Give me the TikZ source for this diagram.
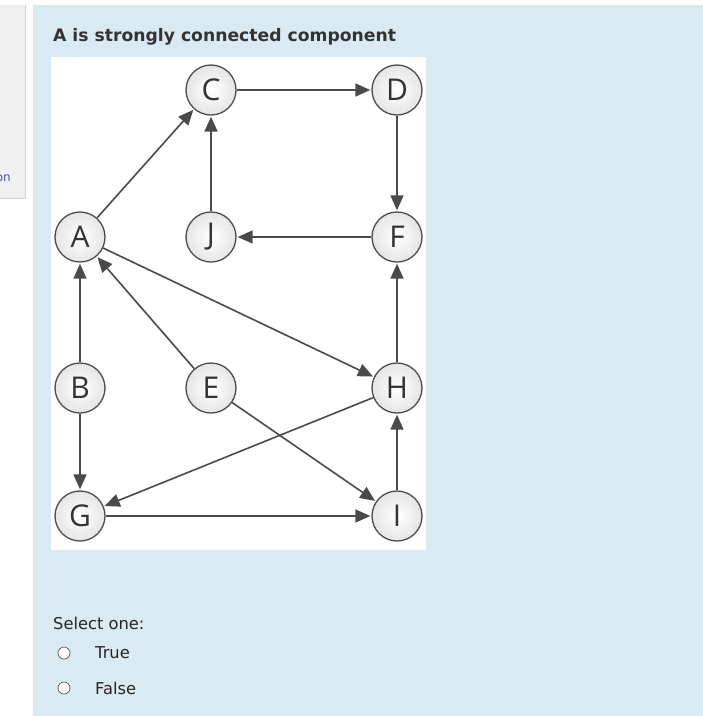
\documentclass[tikz,border=0pt]{standalone}
\usepackage{fontspec}
\setmainfont{DejaVu Sans}
\newfontfamily\nodefont{Open Sans}
\usetikzlibrary{arrows.meta}
\definecolor{panel}{HTML}{D9EAF3}
\definecolor{edge}{HTML}{4A4A4A}
\tikzset{
  vert/.style={circle,draw=black!70,line width=1.3pt,inner color=white,outer color=gray!20,minimum size=50pt,inner sep=0pt,font=\nodefont\fontsize{30}{30}\selectfont,text=black!80},
  conn/.style={draw=edge,line width=1.6pt,-{Triangle[length=15pt,width=13pt]},shorten >=1pt},
  radio/.style={circle,draw=gray!70!black,fill=white,minimum size=12pt,inner sep=0pt,line width=0.7pt},
  ui/.style={anchor=west,font=\fontsize{16.3}{16.3}\selectfont,text=black!85}
}
\begin{document}
\begin{tikzpicture}[x=1pt,y=-1pt]
\useasboundingbox (0,0) rectangle (703,716);
\fill[white] (0,0) rectangle (703,716);
\fill[gray!12] (0,5) rectangle (25,198);
\draw[gray!35] (25,5) -- (25,198) -- (0,198);
\node[font=\fontsize{12}{12}\selectfont,text=blue!40!gray,anchor=east,inner sep=1pt] (on) at (12,178) {on};
\fill[panel] (33,5) rectangle (703,716);
\node[anchor=west,font=\bfseries\fontsize{17.2}{17.2}\selectfont,text=black!80,inner sep=1pt] (title) at (52,37) {A is strongly connected component};
\fill[white] (51,57) rectangle (426,550);
\node[vert] (C) at (211,90) {C};
\node[vert] (D) at (397,90) {D};
\node[vert] (A) at (80,237) {A};
\node[vert] (J) at (211,237) {J};
\node[vert] (F) at (397,237) {F};
\node[vert] (B) at (80,388) {B};
\node[vert] (E) at (211,388) {E};
\node[vert] (H) at (397,388) {H};
\node[vert] (G) at (80,516) {G};
\node[vert] (I) at (397,516) {I};
\draw[conn] (A) -- (C);
\draw[conn] (C) -- (D);
\draw[conn] (D) -- (F);
\draw[conn] (F) -- (J);
\draw[conn] (J) -- (C);
\draw[conn] (B) -- (A);
\draw[conn] (B) -- (G);
\draw[conn] (E) -- (A);
\draw[conn] (A) -- (H);
\draw[conn] (H) -- (F);
\draw[conn] (H) -- (G);
\draw[conn] (E) -- (I);
\draw[conn] (I) -- (H);
\draw[conn] (G) -- (I);
\node[ui,inner sep=1pt] (sel) at (52,623) {Select one:};
\node[radio] (r1) at (64,653) {};
\node[ui,inner sep=1pt] (t) at (94,653) {True};
\node[radio] (r2) at (64,688) {};
\node[ui,inner sep=1pt] (f) at (94,688) {False};
\end{tikzpicture}
\end{document}
